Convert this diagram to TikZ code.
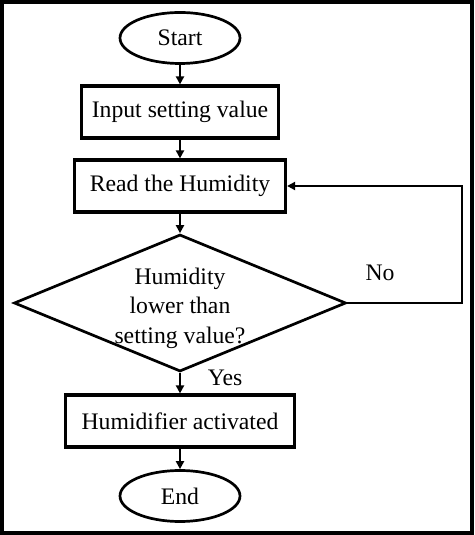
\documentclass[tikz,border=0pt]{standalone}
\usepackage{fontspec}
\setmainfont{Liberation Serif}
\usetikzlibrary{shapes.geometric,arrows.meta}
\begin{document}
\begin{tikzpicture}[x=1pt,y=1pt]
  \tikzstyle{every node}+=[font=\fontsize{23.7}{29.5}\selectfont]
  \tikzstyle{terminal}=[draw, line width=2.7pt, ellipse, minimum width=120pt, minimum height=51pt, inner sep=0pt]
  \tikzstyle{process}=[draw, line width=3.2pt, rectangle, minimum height=52pt, inner sep=0pt]
  \tikzstyle{decision}=[draw, line width=2.7pt, diamond, minimum width=332pt, minimum height=137pt, inner sep=0pt]
  \tikzstyle{flow}=[line width=2.2pt, -{Triangle[length=8pt,width=8pt]}]
  \useasboundingbox (0,0) rectangle (474,535);
  \draw [line width=4pt] (2,2) rectangle (472,533);
  \node [terminal] (start) at (180,497) {Start};
  \node [process, minimum width=197pt] (input) at (180,423) {Input setting value};
  \node [process, minimum width=211pt] (read) at (180,349) {Read the Humidity};
  \node [decision, label={[align=center, yshift=-5pt]center:Humidity\\lower than\\setting value?}] (check) at (180,232) {};
  \node [process, minimum width=229pt] (act) at (180,114) {Humidifier activated};
  \node [terminal] (end) at (180,39) {End};
  \coordinate (loopb) at (462,232);
  \coordinate (loopt) at (462,349);
  \draw [flow] (start) -- (input);
  \draw [flow] (input) -- (read);
  \draw [flow] (read) -- (check);
  \draw [flow] (check) -- (act);
  \draw [flow] (act) -- (end);
  \draw [flow] (check.east) -- (loopb) -- (loopt) -- (read.east);
  \node (no) at (380,262) {No};
  \node (yes) at (225,157) {Yes};
\end{tikzpicture}
\end{document}
